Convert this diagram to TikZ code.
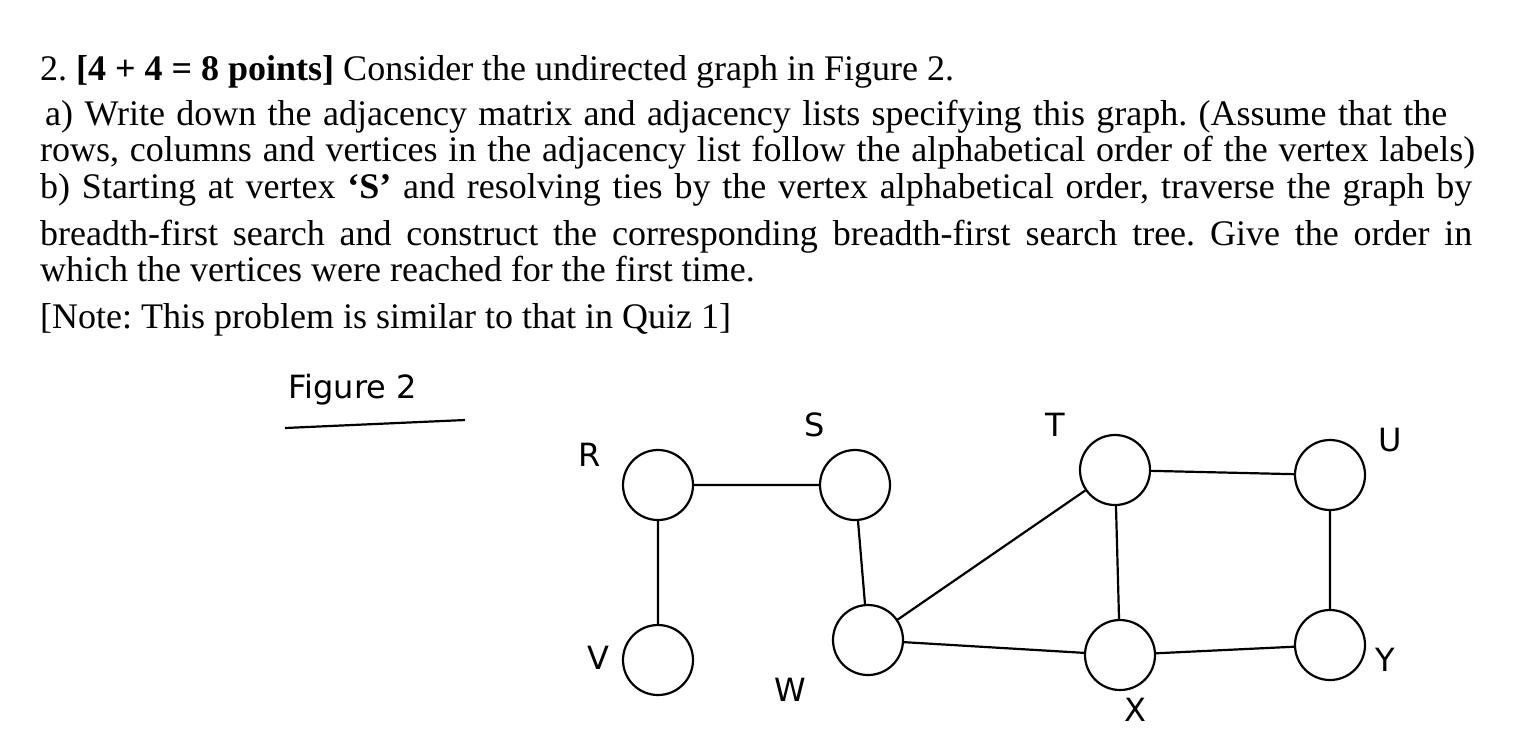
\documentclass[tikz,border=0pt]{standalone}
\usepackage{fontspec}
\setmainfont{Liberation Serif}
\newfontfamily\hand{DejaVu Sans}
\frenchspacing
\begin{document}
\begin{tikzpicture}[x=1pt,y=-1pt,
  txt/.style={anchor=base west,inner sep=0pt,font=\fontsize{36}{40}\selectfont},
  vtx/.style={circle,draw,line width=2.2pt,minimum size=70pt,inner sep=0pt},
  lab/.style={font=\hand\fontsize{32}{36}\selectfont},
  edge/.style={line width=2.2pt}]
\useasboundingbox (0,0) rectangle (1538,748);
\node[txt] (l1) at (40,80) {2. \textbf{[4 + 4 = 8 points]} Consider the undirected graph in Figure 2.};
\node[txt] (l2) at (45,125) {\makebox[1402pt][s]{a) Write down the adjacency matrix and adjacency lists specifying this graph. (Assume that the}};
\node[txt] (l3) at (40,161) {\makebox[1435pt][s]{rows, columns and vertices in the adjacency list follow the alphabetical order of the vertex labels)}};
\node[txt] (l4) at (40,198) {\makebox[1432pt][s]{b) Starting at vertex \textbf{‘S’} and resolving ties by the vertex alphabetical order, traverse the graph by}};
\node[txt] (l5) at (40,245) {\makebox[1432pt][s]{breadth-first search and construct the corresponding breadth-first search tree. Give the order in}};
\node[txt] (l6) at (40,281) {which the vertices were reached for the first time.};
\node[txt] (l7) at (40,328) {[Note: This problem is similar to that in Quiz 1]};
\node[lab,anchor=base west] (fig) at (285,398) {Figure 2};
\draw[edge] (285,428) -- (465,420);
\node[vtx] (R) at (658,485) {};
\node[vtx] (S) at (855,485) {};
\node[vtx] (T) at (1115,470) {};
\node[vtx] (U) at (1330,475) {};
\node[vtx] (V) at (658,660) {};
\node[vtx] (W) at (868,640) {};
\node[vtx] (X) at (1120,655) {};
\node[vtx] (Y) at (1330,645) {};
\node[lab] (lR) at (590,455) {R};
\node[lab] (lS) at (815,425) {S};
\node[lab] (lT) at (1055,425) {T};
\node[lab] (lU) at (1390,440) {U};
\node[lab] (lV) at (598,658) {V};
\node[lab] (lW) at (790,690) {W};
\node[lab] (lX) at (1135,710) {X};
\node[lab] (lY) at (1385,660) {Y};
\draw[edge] (R)--(S) (R)--(V) (S)--(W) (W)--(T) (W)--(X) (T)--(U) (T)--(X) (U)--(Y) (X)--(Y);
\end{tikzpicture}
\end{document}
